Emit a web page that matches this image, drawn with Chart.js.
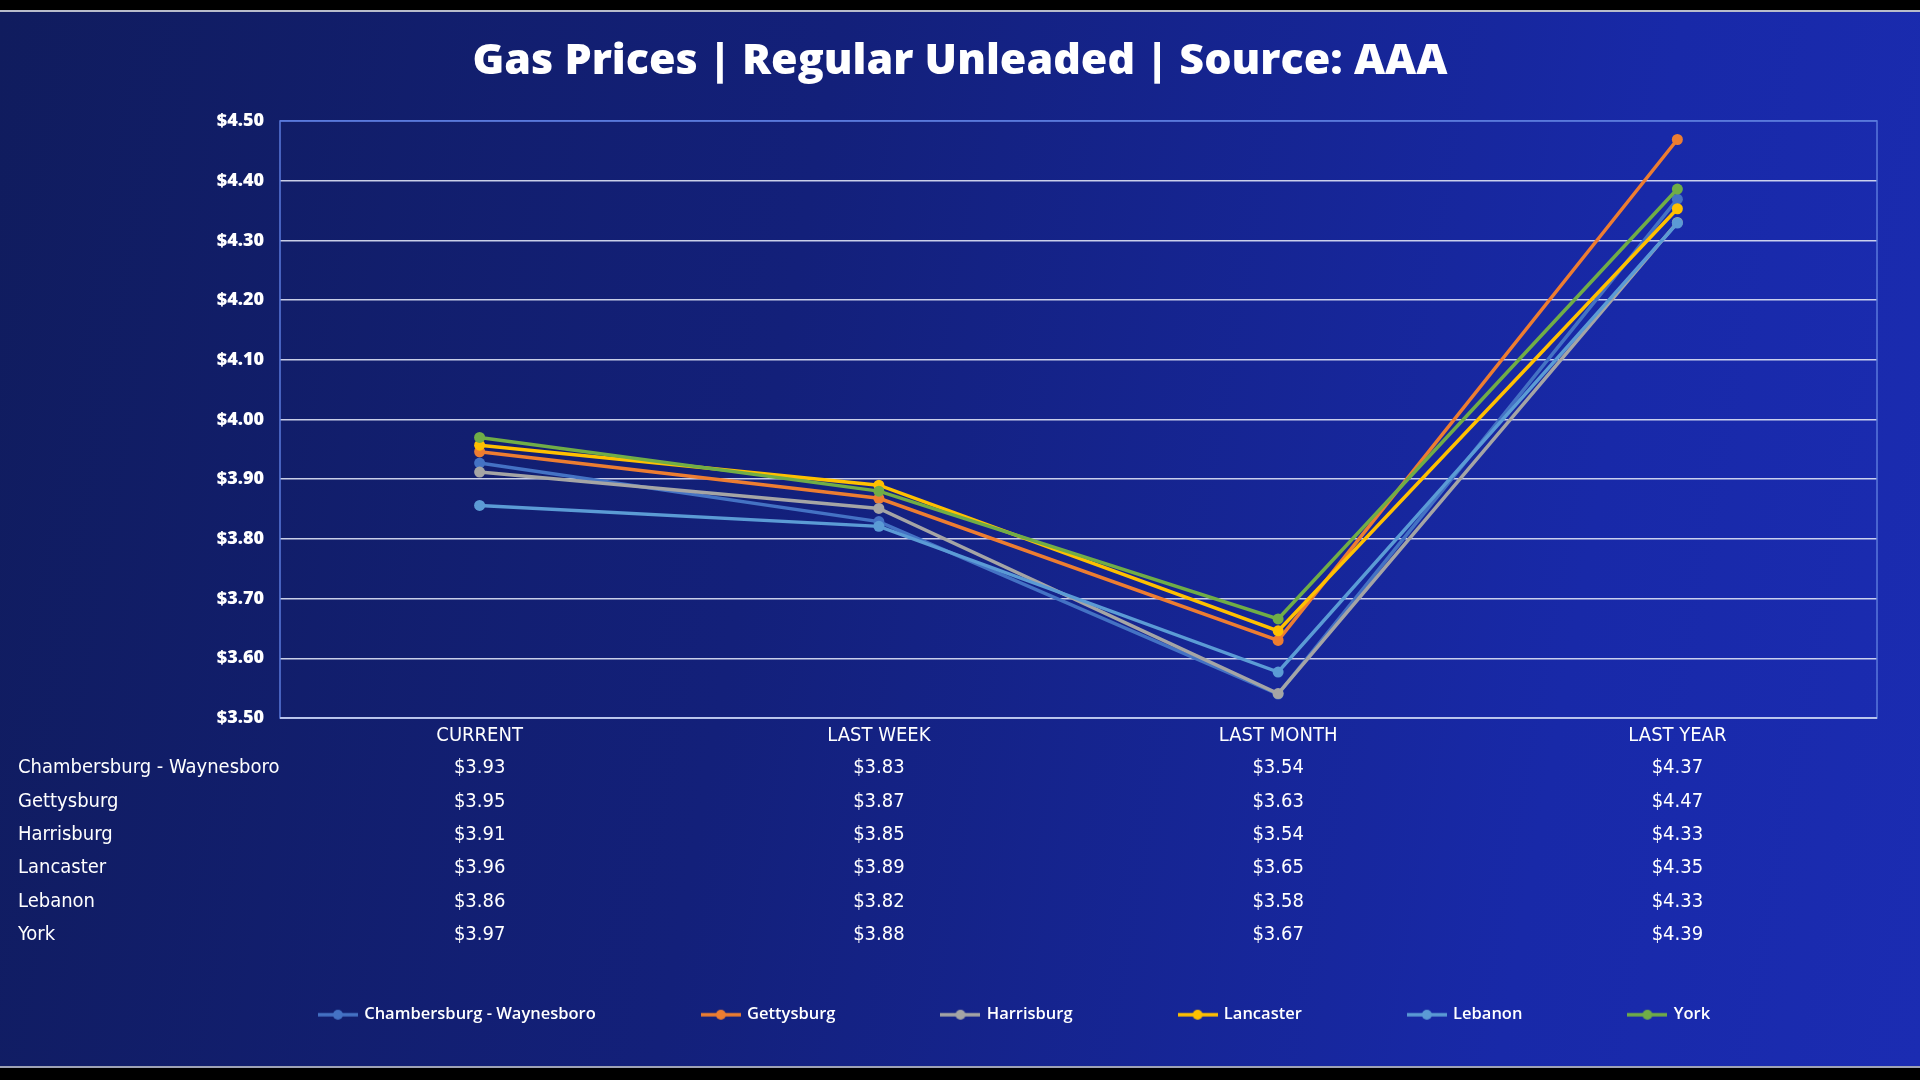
<!DOCTYPE html>
<html>
<head>
<meta charset="utf-8">
<title>Gas Prices | Regular Unleaded | Source: AAA</title>
<script src="https://cdn.jsdelivr.net/npm/chart.js@4.4.1/dist/chart.umd.min.js"></script>
<style>
    html, body {
        margin: 0;
        padding: 0;
        width: 1920px;
        height: 1080px;
        background: #000;
        overflow: hidden;
    }
    .frame {
        position: absolute;
        left: 0;
        top: 10px;
        width: 1920px;
        height: 1058px;
        box-sizing: border-box;
        border-top: 2px solid #b8bccb;
        border-bottom: 2px solid #9ea2b4;
        background: linear-gradient(100deg, #101c5e 0%, #13207a 40%, #1829a8 80%, #1b2cb2 100%);
    }
    .chart-wrap {
        position: absolute;
        left: 0;
        top: 0;
        width: 1920px;
        height: 1080px;
    }
</style>
</head>
<body>
<div class="frame"></div>
<div class="chart-wrap"><canvas id="gasChart"></canvas></div>

<script>
// Chart data
const chartTitle = 'Gas Prices | Regular Unleaded | Source: AAA';
const categories = ['CURRENT', 'LAST WEEK', 'LAST MONTH', 'LAST YEAR'];
const cities = ['Chambersburg - Waynesboro', 'Gettysburg', 'Harrisburg', 'Lancaster', 'Lebanon', 'York'];

const chambersburg = [3.927, 3.829, 3.540, 4.369];
const gettysburg = [3.946, 3.868, 3.630, 4.469];
const harrisburg = [3.912, 3.851, 3.541, 4.330];
const lancaster = [3.957, 3.890, 3.646, 4.353];
const lebanon = [3.856, 3.821, 3.577, 4.329];
const york = [3.970, 3.880, 3.666, 4.386];

const seriesValues = [chambersburg, gettysburg, harrisburg, lancaster, lebanon, york];
const seriesColors = ['#4472C4', '#ED7D31', '#A5A5A5', '#FFC000', '#5B9BD5', '#70AD47'];

const yMin = 3.5;
const yMax = 4.5;
const yStep = 0.1;

const TABLE_FONT = "'DejaVu Sans Condensed', 'DejaVu Sans', sans-serif";
const BOLD_FONT = "'Open Sans', 'DejaVu Sans', sans-serif";

// Format a price like $3.93
function formatPrice(value) {
    return '$' + (Math.round(value * 100) / 100).toFixed(2);
}

// Small line + dot icon for the legend
function makeLegendIcon(color) {
    const icon = document.createElement('canvas');
    icon.width = 40;
    icon.height = 12;
    const c = icon.getContext('2d');
    c.strokeStyle = color;
    c.lineWidth = 3.5;
    c.beginPath();
    c.moveTo(0, 6);
    c.lineTo(40, 6);
    c.stroke();
    c.fillStyle = color;
    c.beginPath();
    c.arc(20, 6, 5, 0, Math.PI * 2);
    c.fill();
    return icon;
}

const legendIcons = seriesColors.map(makeLegendIcon);

// Title centred on the whole page (legend sits off-centre, so the built-in title can't share its box)
const pageTitlePlugin = {
    id: 'pageTitle',
    afterDraw(chart) {
        const ctx = chart.ctx;
        ctx.save();
        ctx.font = `800 43px ${BOLD_FONT}`;
        ctx.fillStyle = '#ffffff';
        ctx.textAlign = 'center';
        ctx.textBaseline = 'middle';
        ctx.fillText(chartTitle, chart.width / 2, 62);
        ctx.restore();
    }
};

// Plot area frame (blue border)
const plotFramePlugin = {
    id: 'plotFrame',
    beforeDatasetsDraw(chart) {
        const { ctx, chartArea } = chart;
        ctx.save();
        ctx.strokeStyle = '#5a79dc';
        ctx.lineWidth = 1.5;
        ctx.strokeRect(chartArea.left, chartArea.top, chartArea.right - chartArea.left, chartArea.bottom - chartArea.top);
        // bottom line is drawn in the light grid color
        ctx.strokeStyle = 'rgba(222, 226, 245, 0.9)';
        ctx.beginPath();
        ctx.moveTo(chartArea.left, chartArea.bottom);
        ctx.lineTo(chartArea.right, chartArea.bottom);
        ctx.stroke();
        ctx.restore();
    }
};

// Data table under the x axis
const dataTablePlugin = {
    id: 'dataTable',
    afterDraw(chart) {
        const { ctx, chartArea, scales } = chart;
        ctx.save();
        ctx.font = `20px ${TABLE_FONT}`;
        ctx.fillStyle = '#ffffff';
        ctx.textBaseline = 'middle';
        cities.forEach((city, row) => {
            const y = chartArea.bottom + 50 + row * 33.4;
            ctx.textAlign = 'left';
            ctx.fillText(city, 18, y);
            ctx.textAlign = 'center';
            seriesValues[row].forEach((value, i) => {
                ctx.fillText(formatPrice(value), scales.x.getPixelForValue(i), y);
            });
        });
        ctx.restore();
    }
};

// Build datasets
const datasets = cities.map((city, i) => ({
    label: city,
    data: seriesValues[i],
    borderColor: seriesColors[i],
    backgroundColor: seriesColors[i],
    pointBackgroundColor: seriesColors[i],
    pointBorderWidth: 0,
    pointRadius: 5.5,
    borderWidth: 3.5,
    tension: 0,
    order: cities.length - i
}));

// Initialize chart
const chartCtx = document.getElementById('gasChart').getContext('2d');
const gasChart = new Chart(chartCtx, {
    type: 'line',
    data: {
        labels: categories,
        datasets: datasets
    },
    options: {
        responsive: true,
        maintainAspectRatio: false,
        devicePixelRatio: 1,
        animation: false,
        layout: {
            padding: { top: 121, left: 153, right: 43, bottom: 47 }
        },
        scales: {
            x: {
                offset: true,
                grid: { display: false, drawTicks: false },
                border: { display: false },
                ticks: {
                    color: '#ffffff',
                    padding: 6,
                    font: { family: TABLE_FONT, size: 20 }
                },
                afterFit(scale) {
                    scale.height = 181.5;
                }
            },
            y: {
                min: yMin,
                max: yMax,
                grid: {
                    drawTicks: false,
                    lineWidth: 1.5,
                    color: (c) => Math.abs(c.tick.value - yMax) < 1e-6 ? '#5a79dc' : 'rgba(222, 226, 245, 0.9)'
                },
                border: { display: false },
                ticks: {
                    stepSize: yStep,
                    color: '#ffffff',
                    padding: 16,
                    font: { family: BOLD_FONT, size: 18, weight: 800 },
                    callback: (value) => '$' + Number(value).toFixed(2)
                },
                afterFit(scale) {
                    scale.width = 127;
                }
            }
        },
        plugins: {
            title: { display: false },
            legend: {
                position: 'bottom',
                align: 'center',
                labels: {
                    color: '#ffffff',
                    padding: 107,
                    usePointStyle: true,
                    pointStyleWidth: 36,
                    font: { family: BOLD_FONT, size: 16.5, weight: 600 },
                    generateLabels(chart) {
                        const items = Chart.defaults.plugins.legend.labels.generateLabels(chart);
                        items.forEach(item => {
                            item.pointStyle = legendIcons[item.datasetIndex];
                        });
                        return items;
                    },
                    sort: (a, b) => a.datasetIndex - b.datasetIndex
                }
            },
            tooltip: { enabled: false }
        }
    },
    plugins: [plotFramePlugin, dataTablePlugin, pageTitlePlugin]
});
</script>
</body>
</html>
